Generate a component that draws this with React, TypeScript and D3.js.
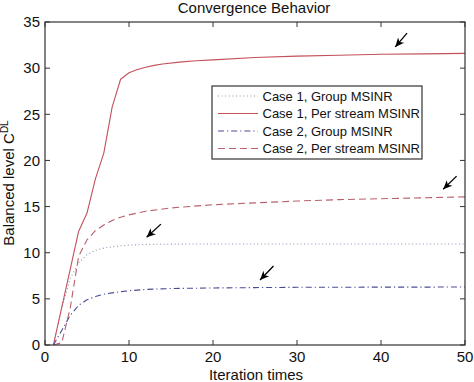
import React from "react";
import * as d3 from "d3";

const TITLE = "Convergence Behavior";
const X_LABEL = "Iteration times";
const Y_LABEL = "Balanced level C";
const Y_LABEL_SUP = "DL";

const X_TICKS = [0, 10, 20, 30, 40, 50];
const Y_TICKS = [0, 5, 10, 15, 20, 25, 30, 35];

const SERIES_NAMES = [
  "Case 1, Group MSINR",
  "Case 1, Per stream MSINR",
  "Case 2, Group MSINR",
  "Case 2, Per stream MSINR",
];

const C1_GROUP_X = [1, 2, 3, 4, 5, 6, 7, 8, 9, 10, 12, 15, 20, 30, 40, 50];
const C1_GROUP_Y = [0, 4.0, 7.2, 8.9, 9.8, 10.25, 10.5, 10.65, 10.75, 10.82, 10.9, 10.93, 10.95, 10.95, 10.95, 10.95];

const C1_STREAM_X = [1, 2, 3, 4, 5, 6, 7, 8, 9, 10, 11, 12, 13, 14, 16, 18, 20, 25, 30, 35, 40, 45, 50];
const C1_STREAM_Y = [0, 4.1, 8.2, 12.3, 14.3, 18.0, 20.8, 25.8, 28.8, 29.5, 29.85, 30.1, 30.3, 30.45, 30.65, 30.8, 30.9, 31.15, 31.3, 31.4, 31.5, 31.55, 31.6];

const C2_GROUP_X = [1, 2, 3, 4, 5, 6, 7, 8, 9, 10, 12, 15, 20, 25, 30, 40, 50];
const C2_GROUP_Y = [0, 1.6, 3.2, 4.3, 4.9, 5.25, 5.5, 5.65, 5.78, 5.88, 6.02, 6.12, 6.18, 6.22, 6.25, 6.27, 6.28];

const C2_STREAM_X = [1, 2, 3, 4, 5, 6, 7, 8, 9, 10, 12, 15, 20, 25, 30, 35, 40, 45, 50];
const C2_STREAM_Y = [0, 0.25, 4.0, 9.6, 11.4, 12.4, 13.0, 13.5, 13.85, 14.1, 14.5, 14.85, 15.2, 15.4, 15.6, 15.75, 15.85, 15.95, 16.05];

// Arrow annotations (tail -> tip, in data units)
const ARROW_TAIL_X = [43.1, 49.0, 13.8, 27.2];
const ARROW_TAIL_Y = [33.8, 18.3, 13.1, 8.56];
const ARROW_TIP_X = [41.7, 47.4, 12.1, 25.6];
const ARROW_TIP_Y = [32.3, 16.87, 11.67, 7.04];

const W = 474;
const H = 382;
const FONT = "'Liberation Sans', Arial, Helvetica, sans-serif";

export default function App() {
  const x = d3.scaleLinear().domain([0, 50]).range([45, 465]);
  const y = d3.scaleLinear().domain([0, 35]).range([345, 22]);

  const styles = [
    { color: "#8a94b4", dash: "1 2.6", width: 1.1 },
    { color: "#c4505c", dash: "", width: 1.1 },
    { color: "#4a4c94", dash: "6 3 1.2 3", width: 1.1 },
    { color: "#b8606c", dash: "7 4", width: 1.1 },
  ];
  const xs = [C1_GROUP_X, C1_STREAM_X, C2_GROUP_X, C2_STREAM_X];
  const ys = [C1_GROUP_Y, C1_STREAM_Y, C2_GROUP_Y, C2_STREAM_Y];

  const line = d3
    .line<[number, number]>()
    .x((d) => x(d[0]))
    .y((d) => y(d[1]))
    .curve(d3.curveLinear);

  const tickLen = 5;
  const [x0, x1] = x.range();
  const [y0, y1] = y.range();

  const legX = 212;
  const legY = 86;
  const legW = 210;
  const legH = 73;
  const rowY = [96, 113.5, 131, 148.5];

  return (
    <svg
      width={W}
      height={H}
      style={{ position: "absolute", left: 0, top: 0, background: "#fff" }}
      fontFamily={FONT}
    >
      <rect x={0} y={0} width={W} height={H} fill="#fff" />
      <text x={254} y={13} fontSize={15} textAnchor="middle" fill="#111">
        {TITLE}
      </text>

      {/* series */}
      {xs.map((sx, i) => (
        <path
          key={i}
          d={line(sx.map((v, j) => [v, ys[i][j]] as [number, number])) || ""}
          fill="none"
          stroke={styles[i].color}
          strokeWidth={styles[i].width}
          strokeDasharray={styles[i].dash}
          strokeLinejoin="round"
        />
      ))}

      {/* axes box */}
      <rect x={x0} y={y1} width={x1 - x0} height={y0 - y1} fill="none" stroke="#333" strokeWidth={1.2} />
      {X_TICKS.map((t) => (
        <g key={"xt" + t}>
          <line x1={x(t)} x2={x(t)} y1={y0} y2={y0 - tickLen} stroke="#333" />
          <line x1={x(t)} x2={x(t)} y1={y1} y2={y1 + tickLen} stroke="#333" />
          <text x={x(t)} y={361.5} fontSize={15} textAnchor="middle" fill="#111">
            {t}
          </text>
        </g>
      ))}
      {Y_TICKS.map((t) => (
        <g key={"yt" + t}>
          <line x1={x0} x2={x0 + tickLen} y1={y(t)} y2={y(t)} stroke="#333" />
          <line x1={x1} x2={x1 - tickLen} y1={y(t)} y2={y(t)} stroke="#333" />
          <text x={40} y={y(t) + 5.3} fontSize={15} textAnchor="end" fill="#111">
            {t}
          </text>
        </g>
      ))}

      <text x={256} y={380} fontSize={15} textAnchor="middle" fill="#111">
        {X_LABEL}
      </text>
      <text transform={`translate(14,183) rotate(-90)`} fontSize={15} textAnchor="middle" fill="#111">
        {Y_LABEL}
        <tspan fontSize={10} dy={-6}>
          {Y_LABEL_SUP}
        </tspan>
      </text>

      {/* arrows */}
      {ARROW_TIP_X.map((tx, i) => {
        const px = x(tx);
        const py = y(ARROW_TIP_Y[i]);
        const qx = x(ARROW_TAIL_X[i]);
        const qy = y(ARROW_TAIL_Y[i]);
        const ang = (Math.atan2(py - qy, px - qx) * 180) / Math.PI;
        return (
          <g key={"ar" + i}>
            <line x1={qx} y1={qy} x2={px} y2={py} stroke="#000" strokeWidth={1.3} />
            <path
              d="M0,0 L-9,-4 L-6.5,0 L-9,4 Z"
              fill="#000"
              transform={`translate(${px},${py}) rotate(${ang})`}
            />
          </g>
        );
      })}

      {/* legend */}
      <rect x={legX} y={legY} width={legW} height={legH} fill="#fff" stroke="#333" strokeWidth={1.2} />
      {SERIES_NAMES.map((n, i) => (
        <g key={"lg" + i}>
          <line
            x1={218}
            x2={258}
            y1={rowY[i]}
            y2={rowY[i]}
            stroke={styles[i].color}
            strokeWidth={styles[i].width}
            strokeDasharray={styles[i].dash}
          />
          <text x={262.5} y={rowY[i] + 4.6} fontSize={13} fill="#111">
            {n}
          </text>
        </g>
      ))}
    </svg>
  );
}
